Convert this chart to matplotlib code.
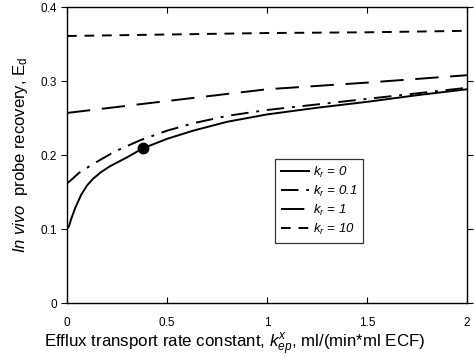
import numpy as np
import matplotlib
matplotlib.use("Agg")
import matplotlib.pyplot as plt

plt.rcParams["font.family"] = ["Liberation Sans", "DejaVu Sans"]
plt.rcParams["mathtext.fontset"] = "custom"
plt.rcParams["mathtext.rm"] = "Liberation Sans"
plt.rcParams["mathtext.it"] = "Liberation Sans:italic"

# ── Data ───────────────────────────────────────────────────────────────────
x_kr0 = [0.0, 0.01, 0.02, 0.04, 0.07, 0.10, 0.13, 0.17, 0.215, 0.30, 0.378,
         0.5, 0.63, 0.8, 1.0, 1.25, 1.5, 1.75, 2.0]
y_kr0 = [0.100, 0.104, 0.113, 0.128, 0.146, 0.159, 0.168, 0.177, 0.185, 0.197, 0.209,
         0.222, 0.233, 0.245, 0.255, 0.264, 0.272, 0.281, 0.289]

x_kr01 = [0.0, 0.015, 0.06, 0.13, 0.24, 0.365, 0.5, 0.63, 0.8, 1.0, 1.5, 2.0]
y_kr01 = [0.162, 0.165, 0.176, 0.188, 0.205, 0.220, 0.233, 0.243, 0.253, 0.261, 0.276, 0.291]

x_kr1 = [0.0, 0.465, 1.0, 1.5, 2.0]
y_kr1 = [0.257, 0.272, 0.289, 0.298, 0.308]

x_kr10 = [0.0, 0.5, 1.0, 1.5, 2.0]
y_kr10 = [0.361, 0.363, 0.365, 0.366, 0.368]

point_x = [0.378]
point_y = [0.209]

x_ticks = [0, 0.5, 1, 1.5, 2]
x_tick_labels = ["0", "0.5", "1", "1.5", "2"]
y_ticks = [0, 0.1, 0.2, 0.3, 0.4]
y_tick_labels = ["0", "0.1", "0.2", "0.3", "0.4"]

# ── Plot ───────────────────────────────────────────────────────────────────
fig = plt.figure(figsize=(4.74, 3.57), dpi=100)
ax = fig.add_axes([0.1414, 0.151, 0.8439, 0.829])

lw = 1.4
ax.plot(x_kr0, y_kr0, color="black", lw=lw, linestyle="-", label=r"$k_r$ = 0")
ax.plot(x_kr01, y_kr01, color="black", lw=lw, linestyle=(0, (9, 4, 1.5, 4)), label=r"$k_r$ = 0.1")
ax.plot(x_kr1, y_kr1, color="black", lw=lw, linestyle=(0, (12, 6)), label=r"$k_r$ = 1")
ax.plot(x_kr10, y_kr10, color="black", lw=lw, linestyle=(0, (5, 4)), label=r"$k_r$ = 10")
ax.plot(point_x, point_y, "o", color="black", markersize=7.5)

ax.set_xlim(0, 2)
ax.set_ylim(0, 0.4)
ax.set_xticks(x_ticks)
ax.set_xticklabels(x_tick_labels)
ax.set_yticks(y_ticks)
ax.set_yticklabels(y_tick_labels)

ax.tick_params(axis="x", which="both", direction="in", top=True, length=4,
               labelsize=8.5, pad=10)
ax.tick_params(axis="y", which="both", direction="out", right=True, length=4,
               labelsize=8.5, pad=3)
for s in ax.spines.values():
    s.set_linewidth(1.0)

ax.set_xlabel(r"Efflux transport rate constant, $k^{x}_{ep}$, ml/(min*ml ECF)",
              fontsize=12.2, labelpad=2)
ax.xaxis.label.set_x(0.42)
ax.set_ylabel(r"$\mathit{In\ vivo}$  probe recovery, E$_{\rm d}$", fontsize=12, labelpad=8)

leg = ax.legend(loc="upper left", bbox_to_anchor=(0.52, 0.487), frameon=True,
                fancybox=False, edgecolor="black", fontsize=9.5, handlelength=2.1,
                handletextpad=0.3, borderpad=0.45, labelspacing=0.3,
                borderaxespad=0)
leg.get_frame().set_linewidth(0.9)
for t in leg.get_texts():
    t.set_fontstyle("italic")

fig.savefig("out.png", dpi=100)
